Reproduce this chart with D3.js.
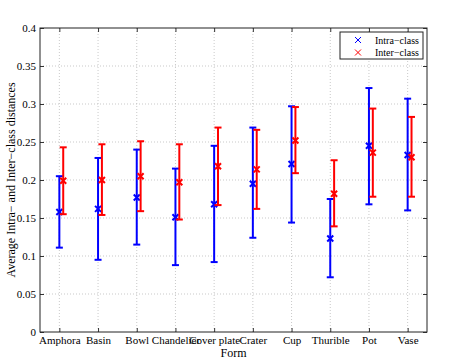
<!DOCTYPE html>
<html>
<head>
<meta charset="utf-8">
<script src="https://cdn.jsdelivr.net/npm/d3@7"></script>
<style>
  body { margin: 0; background: #fff; }
  text { font-family: "Liberation Serif", "Times New Roman", serif; }
</style>
</head>
<body>
<script>
// data
var forms = ["Amphora", "Basin", "Bowl", "Chandelier", "Cover plate", "Crater", "Cup", "Thurible", "Pot", "Vase"];

var intraMean = [0.158, 0.162, 0.177, 0.151, 0.168, 0.195, 0.221, 0.123, 0.245, 0.233];
var intraLow  = [0.111, 0.095, 0.115, 0.088, 0.092, 0.124, 0.144, 0.072, 0.168, 0.160];
var intraHigh = [0.205, 0.229, 0.240, 0.215, 0.245, 0.269, 0.297, 0.175, 0.321, 0.307];

var interMean = [0.199, 0.200, 0.205, 0.197, 0.218, 0.214, 0.252, 0.182, 0.236, 0.230];
var interLow  = [0.155, 0.154, 0.159, 0.148, 0.167, 0.162, 0.209, 0.139, 0.178, 0.178];
var interHigh = [0.243, 0.247, 0.251, 0.247, 0.269, 0.266, 0.296, 0.226, 0.294, 0.283];

var yTicks = [0, 0.05, 0.1, 0.15, 0.2, 0.25, 0.3, 0.35, 0.4];

// dimensions
var width = 474, height = 361;
var margin = { top: 28, right: 47, bottom: 29, left: 40 };
var w = width - margin.left - margin.right;
var h = height - margin.top - margin.bottom;

var svg = d3.select("body").append("svg")
    .attr("width", width)
    .attr("height", height);

var g = svg.append("g")
    .attr("transform", "translate(" + margin.left + "," + margin.top + ")");

var x = d3.scaleLinear().domain([0.5, 10.5]).range([0, w]);
var y = d3.scaleLinear().domain([0, 0.4]).range([h, 0]);

// grid
g.selectAll(".gx").data(forms).enter().append("line")
    .attr("x1", function(d, i) { return x(i + 1); })
    .attr("x2", function(d, i) { return x(i + 1); })
    .attr("y1", 0).attr("y2", h)
    .attr("stroke", "#bbb").attr("stroke-width", 0.8)
    .attr("stroke-dasharray", "1,2");
g.selectAll(".gy").data(yTicks.slice(1, -1)).enter().append("line")
    .attr("x1", 0).attr("x2", w)
    .attr("y1", function(d) { return y(d); })
    .attr("y2", function(d) { return y(d); })
    .attr("stroke", "#bbb").attr("stroke-width", 0.8)
    .attr("stroke-dasharray", "1,2");

// axes (ticks inside, like matlab)
var xAxis = d3.axisBottom(x)
    .tickValues(d3.range(1, 11))
    .tickFormat(function(d) { return forms[d - 1]; })
    .tickSizeInner(-4).tickSizeOuter(0).tickPadding(4);
var yAxis = d3.axisLeft(y)
    .tickValues(yTicks)
    .tickFormat(function(d) { return d; })
    .tickSizeInner(-4).tickSizeOuter(0).tickPadding(4);

var gx = g.append("g").attr("transform", "translate(0," + h + ")").call(xAxis);
var gy = g.append("g").call(yAxis);
// top and right ticks
g.append("g").call(d3.axisTop(x).tickValues(d3.range(1, 11)).tickSizeInner(-4).tickSizeOuter(0).tickFormat(""));
g.append("g").attr("transform", "translate(" + w + ",0)")
    .call(d3.axisRight(y).tickValues(yTicks).tickSizeInner(-4).tickSizeOuter(0).tickFormat(""));

g.selectAll(".domain").remove();
g.selectAll(".tick line").attr("stroke", "#333");
[gx, gy].forEach(function(a) {
    a.selectAll("text").attr("fill", "#000").style("font-size", "11px")
        .style("font-family", "'Liberation Serif', serif");
});

// box
g.append("rect")
    .attr("x", 0).attr("y", 0).attr("width", w).attr("height", h)
    .attr("fill", "none").attr("stroke", "#222").attr("stroke-width", 1);

// error bars
function drawSeries(mean, low, high, color, offset) {
    var s = g.append("g");
    var cap = 3.5;
    forms.forEach(function(f, i) {
        var cx = x(i + 1 + offset);
        s.append("line")
            .attr("x1", cx).attr("x2", cx)
            .attr("y1", y(low[i])).attr("y2", y(high[i]))
            .attr("stroke", color).attr("stroke-width", 2);
        [low[i], high[i]].forEach(function(v) {
            s.append("line")
                .attr("x1", cx - cap).attr("x2", cx + cap)
                .attr("y1", y(v)).attr("y2", y(v))
                .attr("stroke", color).attr("stroke-width", 2);
        });
        var my = y(mean[i]), m = 3;
        s.append("path")
            .attr("d", "M" + (cx - m) + "," + (my - m) + "L" + (cx + m) + "," + (my + m) +
                "M" + (cx - m) + "," + (my + m) + "L" + (cx + m) + "," + (my - m))
            .attr("stroke", color).attr("stroke-width", 2);
    });
}
drawSeries(intraMean, intraLow, intraHigh, "#0000ff", 0);
drawSeries(interMean, interLow, interHigh, "#ff0000", 0.1);

// legend
var legend = g.append("g").attr("transform", "translate(" + (340 - margin.left) + "," + (32 - margin.top) + ")");
legend.append("rect")
    .attr("width", 83).attr("height", 27)
    .attr("fill", "#fff").attr("stroke", "#222").attr("stroke-width", 1);
var items = [["Intra\u2212class", "#0000ff"], ["Inter\u2212class", "#ff0000"]];
items.forEach(function(it, i) {
    var ly = 8 + i * 12.5, lx = 18, m = 3;
    legend.append("path")
        .attr("d", "M" + (lx - m) + "," + (ly - m) + "L" + (lx + m) + "," + (ly + m) +
            "M" + (lx - m) + "," + (ly + m) + "L" + (lx + m) + "," + (ly - m))
        .attr("stroke", it[1]).attr("stroke-width", 1);
    legend.append("text")
        .attr("x", 35).attr("y", ly + 3.5)
        .style("font-size", "10px")
        .text(it[0]);
});

// axis labels
svg.append("text")
    .attr("x", margin.left + w / 2).attr("y", 357)
    .attr("text-anchor", "middle")
    .style("font-size", "12px")
    .text("Form");
svg.append("text")
    .attr("transform", "translate(15," + (margin.top + h / 2) + ") rotate(-90)")
    .attr("text-anchor", "middle")
    .style("font-size", "12px")
    .text("Average Intra\u2212 and Inter\u2212class distances");
</script>
</body>
</html>
